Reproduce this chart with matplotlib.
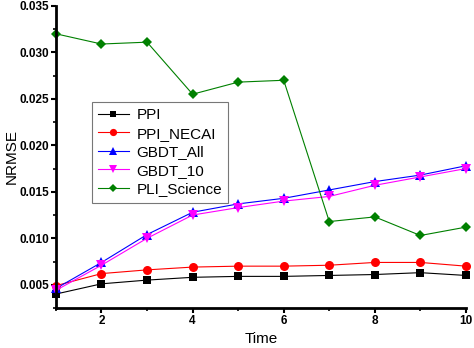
import matplotlib
matplotlib.use("Agg")
import matplotlib.pyplot as plt
from matplotlib.ticker import MultipleLocator

plt.rcParams['font.family'] = ['Liberation Sans', 'DejaVu Sans']

time = [1, 2, 3, 4, 5, 6, 7, 8, 9, 10]
ppi = [0.0040, 0.0051, 0.0055, 0.0058, 0.0059, 0.0059, 0.0060, 0.0061, 0.0063, 0.0060]
ppi_necai = [0.0049, 0.0062, 0.0066, 0.0069, 0.0070, 0.0070, 0.0071, 0.0074, 0.0074, 0.0070]
gbdt_all = [0.0046, 0.0074, 0.0104, 0.0128, 0.0137, 0.0143, 0.0152, 0.0161, 0.0168, 0.0178]
gbdt_10 = [0.0044, 0.0071, 0.0100, 0.0125, 0.0133, 0.0140, 0.0145, 0.0157, 0.0166, 0.0175]
pli_science = [0.0320, 0.0309, 0.0311, 0.0255, 0.0268, 0.0270, 0.0118, 0.0123, 0.0103, 0.0112]

series = [
    ("PPI", ppi, "black", "s", 5.5),
    ("PPI_NECAI", ppi_necai, "red", "o", 6.5),
    ("GBDT_All", gbdt_all, "blue", "^", 6.5),
    ("GBDT_10", gbdt_10, "magenta", "v", 6.5),
    ("PLI_Science", pli_science, "green", "D", 5.5),
]

fig = plt.figure(figsize=(4.74, 3.48), dpi=100)
ax = fig.add_axes([0.118, 0.115, 0.865, 0.868])

for name, vals, col, mk, ms in series:
    ax.plot(time, vals, color=col, marker=mk, markersize=ms, linewidth=0.8,
            markeredgewidth=0, label=name, clip_on=False)

ax.set_xlim(1, 10)
ax.set_ylim(0.0025, 0.035)
ax.xaxis.set_major_locator(MultipleLocator(2))
ax.xaxis.set_minor_locator(MultipleLocator(1))
ax.yaxis.set_major_locator(MultipleLocator(0.005))
ax.yaxis.set_minor_locator(MultipleLocator(0.0025))
ax.yaxis.set_major_formatter(plt.FormatStrFormatter('%.3f'))

for s in ['top', 'right']:
    ax.spines[s].set_visible(False)
for s in ['left', 'bottom']:
    ax.spines[s].set_linewidth(2)

ax.tick_params(which='major', direction='out', length=3.5, width=1.5, pad=1.5, labelsize=8.5)
ax.tick_params(which='minor', direction='out', length=2.5, width=1.2)
for lab in ax.get_xticklabels() + ax.get_yticklabels():
    lab.set_fontweight('bold')

ax.set_xlabel("Time", fontsize=11)
ax.xaxis.set_label_coords(0.5, -0.08)
ax.set_ylabel("NRMSE", fontsize=11)
ax.yaxis.set_label_coords(-0.09, 0.5)

leg = ax.legend(loc='upper left', bbox_to_anchor=(0.088, 0.682), borderaxespad=0,
                fontsize=11, frameon=True, fancybox=False, handlelength=2.0,
                labelspacing=0.3, borderpad=0.4, handletextpad=0.5, markerscale=0.8)
leg.get_frame().set_edgecolor('#555555')
leg.get_frame().set_linewidth(0.8)

fig.savefig("out.png", dpi=100)
